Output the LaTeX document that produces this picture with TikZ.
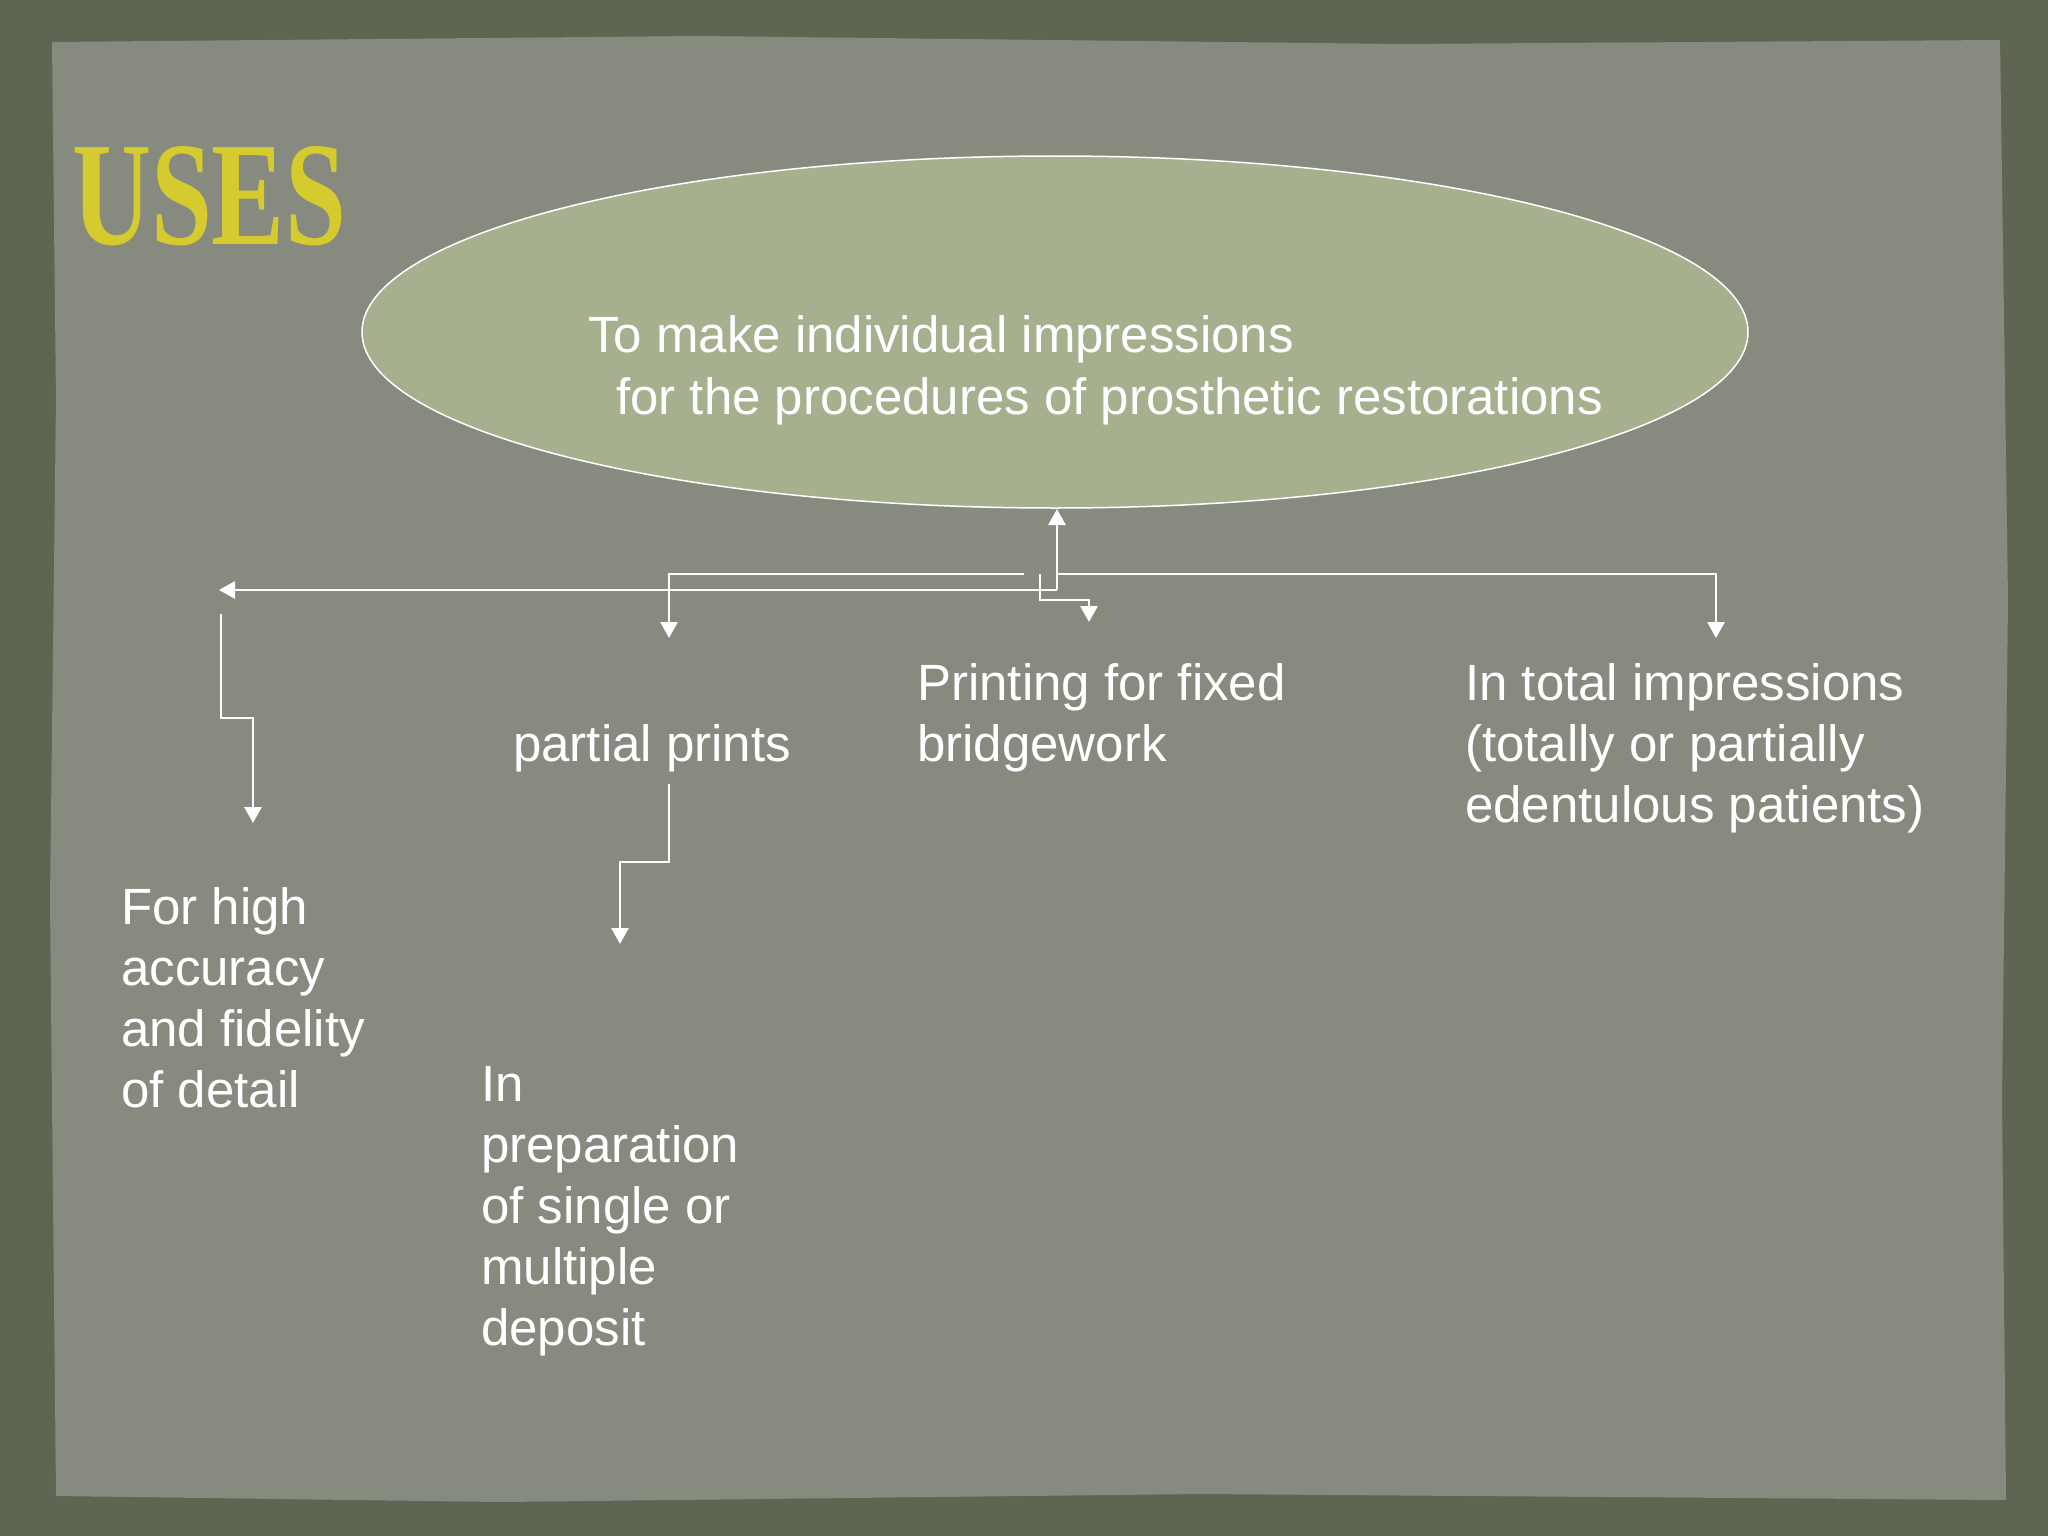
\documentclass[tikz,border=0pt]{standalone}
\usepackage{fontspec}
\setmainfont{Liberation Sans}
\newfontfamily\titlefont{Liberation Serif}
\usetikzlibrary{arrows.meta,shapes.geometric}
\definecolor{outer}{HTML}{5E6552}
\definecolor{paper}{HTML}{878B7F}
\definecolor{ellfill}{HTML}{A6AF8E}
\definecolor{gold}{HTML}{D6CB2E}
\begin{document}
\begin{tikzpicture}[x=1pt,y=-1pt,
  conn/.style={white,line width=2.8pt},
  arr/.style={conn,-{Triangle[width=17pt,length=16pt]}},
  lbl/.style={text=white,font=\fontsize{51}{61}\selectfont,align=left,anchor=base west,inner sep=0pt}]
\useasboundingbox (0,0) rectangle (2048,1536);
\fill[outer] (0,0) rectangle (2048,1536);
\fill[paper] (52,42) -- (700,36) -- (1400,44) -- (2000,40) -- (2008,600) -- (2002,1100) -- (2006,1500) -- (1200,1494) -- (500,1502) -- (56,1496) -- (50,900) -- (56,400) -- cycle;
\node[text=gold,font=\titlefont\bfseries\fontsize{148}{148}\selectfont,xscale=0.74] (title) at (209,196) {USES};
\node[ellipse,draw=white,line width=1.5pt,fill=ellfill,minimum width=1386pt,minimum height=352pt] (ell) at (1055,332) {};
\node[lbl] (t1) at (588,352) {To make individual impressions};
\node[lbl] (t2) at (616,414) {for the procedures of prosthetic restorations};
\node[lbl] (acc) at (121,1107) {For high\\accuracy\\and fidelity\\of detail};
\node[lbl] (part) at (513,761) {partial prints};
\node[lbl] (prep) at (481,1345) {In\\preparation\\of single or\\multiple\\deposit};
\node[lbl] (fix) at (917,761) {Printing for fixed\\bridgework};
\node[lbl] (tot) at (1465,822) {In total impressions\\(totally or partially\\edentulous patients)};
\coordinate (j) at (1057,590);
\coordinate (up) at (1057,509);
\coordinate (la) at (219,590);
\draw[arr] (j) -- (la);
\draw[arr] (j) -- (up);
\coordinate (a1) at (221,614); \coordinate (a2) at (221,718); \coordinate (a3) at (253,718); \coordinate (a4) at (253,823);
\draw[arr] (a1) -- (a2) -- (a3) -- (a4);
\coordinate (p0) at (1024,574); \coordinate (p1) at (669,574); \coordinate (p2) at (669,638);
\draw[arr] (p0) -- (p1) -- (p2);
\coordinate (q1) at (669,784); \coordinate (q2) at (669,862); \coordinate (q3) at (620,862); \coordinate (q4) at (620,944);
\draw[arr] (q1) -- (q2) -- (q3) -- (q4);
\coordinate (r0) at (1058,574); \coordinate (r1) at (1716,574); \coordinate (r2) at (1716,638);
\draw[arr] (r0) -- (r1) -- (r2);
\coordinate (s0) at (1040,574); \coordinate (s1) at (1040,600); \coordinate (s2) at (1089,600); \coordinate (s3) at (1089,622);
\draw[arr] (s0) -- (s1) -- (s2) -- (s3);
\end{tikzpicture}
\end{document}
